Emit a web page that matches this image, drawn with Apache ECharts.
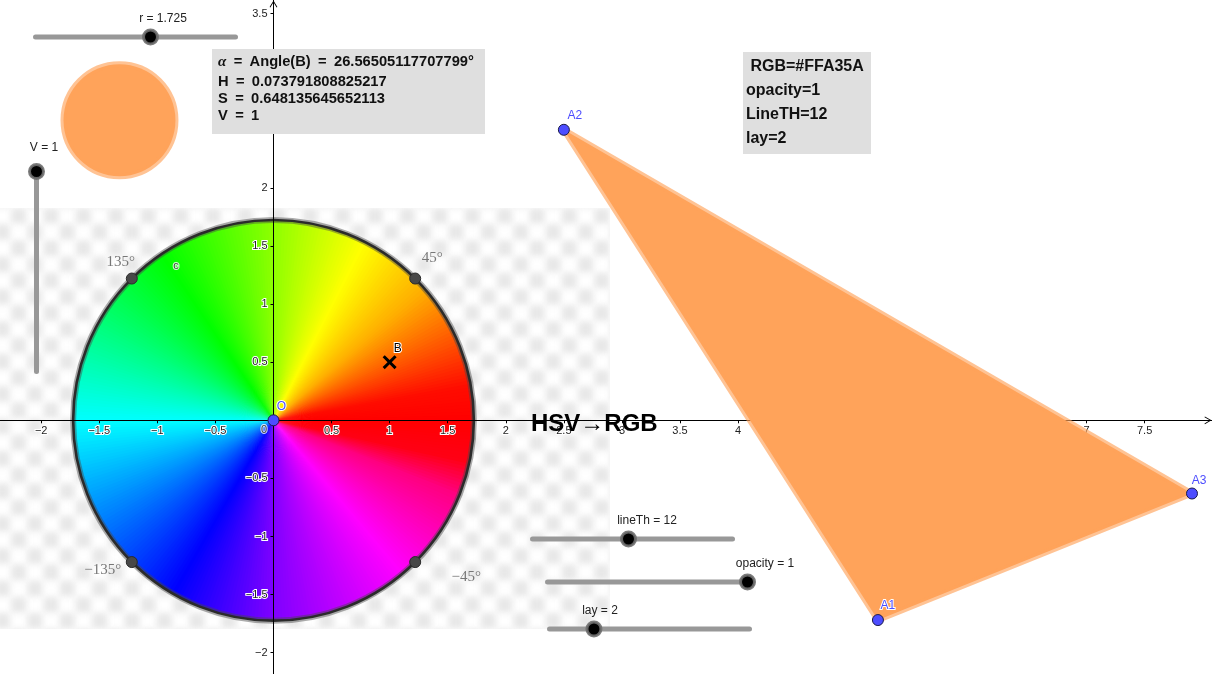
<!DOCTYPE html>
<html>
<head>
<meta charset="utf-8">
<style>html,body{margin:0;padding:0;background:#fff}#main{width:1212px;height:674px}</style>
<script src="https://cdn.jsdelivr.net/npm/echarts@6/dist/echarts.min.js"></script>
</head>
<body>
<div id="main"></div>
<script>
// tick labels
var xTicks = [-2, -1.5, -1, -0.5, 0.5, 1, 1.5, 2, 2.5, 3, 3.5, 4, 4.5, 5, 5.5, 6, 6.5, 7, 7.5];
var yTicks = [-2, -1.5, -1, -0.5, 0.5, 1, 1.5, 2, 2.5, 3, 3.5];

// triangle
var triNames = ['A1', 'A2', 'A3'];
var triX = [5.204, 2.5, 7.908];
var triY = [-1.719, 2.5, -0.63];

// colour wheel and the points on it
var wheelR = 1.725;
var wheelAngles = [0, 10, 20, 41, 63, 124, 180, 240, 270, 310, 338, 348, 360];
var wheelHues = [0, 3, 15, 41, 60, 120, 180, 240, 270, 300, 330, 355, 360];
var angleNames = ['45°', '135°', '\u2212135°', '\u221245°'];
var angleX = [1.22, -1.22, -1.22, 1.22];
var angleY = [1.22, 1.22, -1.22, -1.22];
var pointB = [1, 0.5];
var pointO = [0, 0];
var labelC = [-0.84, 1.325];

// colour swatch
var discCenter = [-1.326, 2.582];
var discR = 0.482;

// sliders
var sliderNames = ['r', 'V', 'lineTh', 'opacity', 'lay'];
var sliderValues = [1.725, 1, 12, 1, 2];
var sliderMax = [3, 1, 25, 1, 9];

// readouts
var hsvLines = ['H\u2002=\u20020.073791808825217', 'S\u2002=\u20020.648135645652113', 'V\u2002=\u20021'];
var angleLine = '\u2002=\u2002Angle(B)\u2002=\u200226.56505117707799°';
var rgbLines = [' RGB=#FFA35A', 'opacity=1', 'LineTH=12', 'lay=2'];

var ORANGE = '#FFA35A';
var ORANGE_LINE = 'rgba(255,163,90,0.65)';
var BLUE = '#4D4DFF';
var SANS = '"Liberation Sans", Arial, sans-serif';

function minusFmt(v) {
    return String(v).replace('-', '\u2212');
}

// soft checkerboard behind the wheel
function makeChecker() {
    var c = document.createElement('canvas');
    c.width = 610;
    c.height = 421;
    var ctx = c.getContext('2d');
    ctx.fillStyle = '#fff';
    ctx.fillRect(0, 0, 610, 421);
    ctx.filter = 'blur(3px)';
    ctx.fillStyle = '#e8e8e8';
    var size = 16.2;
    for (var row = -1; row < 28; row++) {
        for (var col = -1; col < 40; col++) {
            if ((row + col + 2) % 2 === 0) {
                ctx.fillRect(col * size + 11, row * size, size - 1, size - 1);
            }
        }
    }
    return c;
}
var checker = makeChecker();

function renderChecker(params, api) {
    var tl = api.coord([-2.3547, 1.826]);
    return {
        type: 'image',
        style: { image: checker, x: tl[0], y: tl[1], width: 610, height: 421 }
    };
}

// the wheel's colours bunch up a little round red, so the hue is looked up
function hueAt(angle) {
    for (var i = 1; i < wheelAngles.length; i++) {
        if (angle <= wheelAngles[i]) {
            var t = (angle - wheelAngles[i - 1]) / (wheelAngles[i] - wheelAngles[i - 1]);
            return wheelHues[i - 1] + t * (wheelHues[i] - wheelHues[i - 1]);
        }
    }
    return 0;
}

function renderWheel(params, api) {
    var c = api.coord([api.value(0), api.value(1)]);
    var r = api.size([api.value(2), api.value(2)])[0];
    var children = [];
    for (var a = 0; a < 360; a++) {
        children.push({
            type: 'sector',
            shape: {
                cx: c[0], cy: c[1], r: r, r0: 0,
                startAngle: -(a + 1.6) * Math.PI / 180,
                endAngle: -(a - 0.5) * Math.PI / 180,
                clockwise: true
            },
            style: { fill: 'hsl(' + hueAt(a) + ',100%,50%)' }
        });
    }
    children.push({
        type: 'circle',
        shape: { cx: c[0], cy: c[1], r: r },
        style: { fill: 'none', stroke: 'rgba(70,70,70,0.45)', lineWidth: 6 }
    });
    children.push({
        type: 'circle',
        shape: { cx: c[0], cy: c[1], r: r },
        style: { fill: 'none', stroke: '#2b2b2b', lineWidth: 2.6 }
    });
    return { type: 'group', children: children };
}

function renderDisc(params, api) {
    var c = api.coord([api.value(0), api.value(1)]);
    var r = api.size([api.value(2), api.value(2)])[0];
    return {
        type: 'circle',
        shape: { cx: c[0], cy: c[1], r: r },
        style: { fill: ORANGE, stroke: ORANGE_LINE, lineWidth: 6 }
    };
}

function renderTriangle(params, api) {
    var pts = [];
    for (var i = 0; i < triX.length; i++) {
        pts.push(api.coord([triX[i], triY[i]]));
    }
    return {
        type: 'polygon',
        shape: { points: pts },
        style: { fill: ORANGE, stroke: ORANGE_LINE, lineWidth: 6, lineJoin: 'round' }
    };
}

// sliders are fixed to the screen, only the knob depends on the value
var sliderLayout = [
    { x: 35.5, y: 37, dir: 1, lx: 163, ly: 19 },
    { x: 36.5, y: 371.5, dir: -1, lx: 44, ly: 148 },
    { x: 532.5, y: 539, dir: 1, lx: 647, ly: 521 },
    { x: 547.5, y: 582, dir: 1, lx: 765, ly: 564 },
    { x: 549.5, y: 629, dir: 1, lx: 600, ly: 611 }
];

function sliderElements() {
    var els = [];
    for (var i = 0; i < sliderNames.length; i++) {
        var s = sliderLayout[i];
        var t = sliderValues[i] / sliderMax[i] * 200;
        var vertical = s.dir < 0;
        els.push({
            type: 'line',
            shape: vertical
                ? { x1: s.x, y1: s.y, x2: s.x, y2: s.y - 200 }
                : { x1: s.x, y1: s.y, x2: s.x + 200, y2: s.y },
            style: { stroke: '#989898', lineWidth: 5, lineCap: 'round' }
        });
        els.push({
            type: 'circle',
            shape: { cx: vertical ? s.x : s.x + t, cy: vertical ? s.y - t : s.y, r: 7 },
            style: { fill: '#000', stroke: 'rgba(110,110,110,0.9)', lineWidth: 3 }
        });
        els.push({
            type: 'text',
            x: s.lx,
            y: s.ly,
            style: {
                text: sliderNames[i] + ' = ' + sliderValues[i],
                font: '12px ' + SANS,
                fill: '#222',
                align: 'center',
                verticalAlign: 'middle'
            }
        });
    }
    return els;
}

function boxElements() {
    var els = [
        { type: 'rect', shape: { x: 212, y: 49, width: 273, height: 85 }, style: { fill: '#DFDFDF' } },
        { type: 'rect', shape: { x: 743, y: 52, width: 128, height: 102 }, style: { fill: '#DFDFDF' } },
        {
            type: 'text', x: 218, y: 62,
            style: {
                text: '{a|\u03b1}' + angleLine,
                font: 'bold 14.7px ' + SANS,
                fill: '#111',
                verticalAlign: 'middle',
                rich: { a: { font: 'italic bold 15px "Liberation Serif", serif', fill: '#111' } }
            }
        }
    ];
    var hsvY = [82, 99, 116];
    for (var i = 0; i < hsvLines.length; i++) {
        els.push({
            type: 'text', x: 218, y: hsvY[i],
            style: { text: hsvLines[i], font: 'bold 14.7px ' + SANS, fill: '#111', verticalAlign: 'middle' }
        });
    }
    for (var j = 0; j < rgbLines.length; j++) {
        els.push({
            type: 'text', x: 746, y: 66.5 + j * 24,
            style: { text: rgbLines[j], font: 'bold 16px ' + SANS, fill: '#111', verticalAlign: 'middle' }
        });
    }
    els.push({
        type: 'text', x: 531, y: 424,
        style: {
            text: 'HSV\u2192RGB',
            font: 'bold 24px ' + SANS,
            fill: '#000',
            verticalAlign: 'middle'
        }
    });
    return els;
}

function overlayElements() {
    var els = sliderElements().concat(boxElements());
    for (var i = 0; i < els.length; i++) {
        els[i].z = 20;
    }
    return els;
}

function pointData(names, xs, ys, offsets) {
    var out = [];
    for (var i = 0; i < names.length; i++) {
        out.push({ name: names[i], value: [xs[i], ys[i]], label: { offset: offsets[i] } });
    }
    return out;
}

var arrowPath = 'path://M0,8.5 L5,0 L10,8.5 L9,9 L5,2.2 L1,9 Z';

var myChart = echarts.init(document.getElementById('main'));
var option = {
    animation: false,
    backgroundColor: '#fff',
    grid: { left: 0, right: 0, top: 0, bottom: 0, outerBoundsMode: 'none', containLabel: false },
    xAxis: {
        type: 'value',
        position: 'bottom',
        offset: -253.7,
        min: -2.3547,
        max: 8.0802,
        z: 3,
        splitLine: { show: false },
        axisLine: {
            onZero: false,
            symbol: ['none', arrowPath],
            symbolSize: [8, 7],
            symbolOffset: [0, -4],
            lineStyle: { color: '#000', width: 1 }
        },
        axisTick: { show: true, length: 3, lineStyle: { color: '#000' }, customValues: xTicks },
        axisLabel: {
            show: true,
            customValues: xTicks,
            margin: 5,
            fontFamily: SANS,
            fontSize: 11,
            color: '#222',
            textBorderColor: '#fff',
            textBorderWidth: 2,
            formatter: minusFmt
        }
    },
    yAxis: {
        type: 'value',
        position: 'left',
        offset: -273.5,
        min: -2.1833,
        max: 3.617,
        z: 3,
        splitLine: { show: false },
        axisLine: {
            onZero: false,
            symbol: ['none', arrowPath],
            symbolSize: [8, 7],
            symbolOffset: [0, -4],
            lineStyle: { color: '#000', width: 1 }
        },
        axisTick: { show: true, length: 3, lineStyle: { color: '#000' }, customValues: yTicks },
        axisLabel: {
            show: true,
            customValues: yTicks,
            margin: 6,
            fontFamily: SANS,
            fontSize: 11,
            color: '#222',
            textBorderColor: '#fff',
            textBorderWidth: 2,
            formatter: minusFmt
        }
    },
    graphic: { elements: overlayElements() },
    series: [
        { type: 'custom', z: 1, silent: true, clip: false, renderItem: renderChecker, data: [[0, 0]] },
        { type: 'custom', z: 2, silent: true, clip: false, renderItem: renderWheel, data: [[pointO[0], pointO[1], wheelR]] },
        { type: 'custom', z: 5, silent: true, clip: false, renderItem: renderDisc, data: [[discCenter[0], discCenter[1], discR]] },
        { type: 'custom', z: 5, silent: true, clip: false, renderItem: renderTriangle, data: [[triX[0], triY[0]]] },
        {
            // blue points
            type: 'scatter', z: 6, silent: true, symbolSize: 11,
            itemStyle: { color: BLUE, borderColor: '#1a1a4a', borderWidth: 1, opacity: 1 },
            label: {
                show: true, position: 'inside', formatter: '{b}',
                fontFamily: SANS, fontSize: 12, color: BLUE,
                textBorderColor: '#fff', textBorderWidth: 2
            },
            data: pointData(triNames.concat(['O']), triX.concat([pointO[0]]), triY.concat([pointO[1]]),
                [[10, -14], [11, -14], [7, -13], [8, -14]])
        },
        {
            // angle markers on the circle
            type: 'scatter', z: 4, silent: true, symbolSize: 11,
            itemStyle: { color: '#484848', borderColor: '#2a2a2a', borderWidth: 1, opacity: 1 },
            label: {
                show: true, position: 'inside', formatter: '{b}',
                fontFamily: '"Liberation Serif", serif', fontSize: 15, color: '#777'
            },
            data: pointData(angleNames, angleX, angleY, [[17, -20], [-11, -16], [-29, 8], [51, 15]])
        },
        {
            // point B
            type: 'scatter', z: 6, silent: true, symbolSize: 14,
            symbol: 'path://M1.5,0 L5,3.5 L8.5,0 L10,1.5 L6.5,5 L10,8.5 L8.5,10 L5,6.5 L1.5,10 L0,8.5 L3.5,5 L0,1.5 Z',
            itemStyle: { color: '#000', opacity: 1 },
            label: {
                show: true, position: 'inside', formatter: '{b}',
                fontFamily: SANS, fontSize: 12, color: '#000',
                textBorderColor: '#fff', textBorderWidth: 2
            },
            data: pointData(['B'], [pointB[0]], [pointB[1]], [[8, -14]])
        },
        {
            // labels with no marker of their own
            type: 'scatter', z: 4, silent: true, symbolSize: 0,
            label: {
                show: true, position: 'inside', formatter: '{b}',
                fontFamily: SANS, fontSize: 11, color: '#111',
                textBorderColor: '#fff', textBorderWidth: 2
            },
            data: pointData(['c', '0'], [labelC[0], 0], [labelC[1], 0], [[0, 0], [-9.5, 10]])
        }
    ]
};
myChart.setOption(option, true);
</script>
</body>
</html>
